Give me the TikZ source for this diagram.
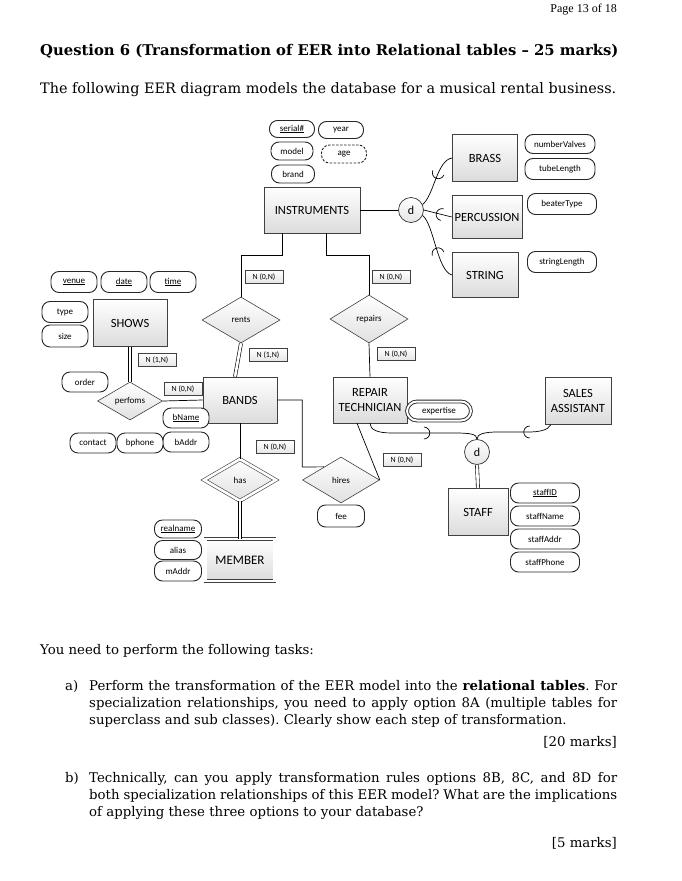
\documentclass[tikz,border=0pt]{standalone}
\usepackage{fontspec}
\setmainfont{DejaVu Serif}
\newfontfamily\diafont{Carlito}
\newfontfamily\timesfont{Liberation Serif}
\usetikzlibrary{shapes.geometric,decorations.markings,calc}
\frenchspacing
\begin{document}
\begin{tikzpicture}[x=1pt,y=-1pt,
  every node/.style={inner sep=0pt},
  ent/.style={draw=black!75, line width=0.6pt, top color=white, bottom color=black!14, minimum height=46pt, align=center, font=\diafont\fontsize{12.5}{15.5}\selectfont},
  attr/.style={draw=black!85, line width=0.9pt, rounded corners=8pt, fill=white, minimum height=19pt, minimum width=46pt, font=\diafont\fontsize{9}{10}\selectfont},
  rel/.style={diamond, aspect=1.7, draw=black!75, line width=0.6pt, top color=white, bottom color=black!12, font=\diafont\fontsize{9}{10}\selectfont},
  card/.style={draw=black!75, line width=0.6pt, top color=white, bottom color=black!10, minimum width=38pt, minimum height=13pt, font=\diafont\fontsize{7.9}{8}\selectfont},
  dcirc/.style={circle, draw=black!80, line width=0.7pt, top color=white, bottom color=black!10, minimum size=25pt, font=\diafont\fontsize{12}{13}\selectfont},
  link/.style={line width=0.7pt},
  dbl/.style={double, double distance=2.6pt, line width=0.6pt},
  subset/.style={postaction={decorate}, decoration={markings, mark=at position #1 with {\draw[line width=0.7pt] (4.5pt,6pt) arc[start angle=90, end angle=270, radius=6pt];}}},
  txt/.style={anchor=base west, font=\fontsize{13.3}{15}\selectfont},
]
\useasboundingbox (0,0) rectangle (681,881);

% ---------- page text ----------
\node[anchor=base east, font=\timesfont\fontsize{12}{14}\selectfont] (pg) at (617,12) {Page 13 of 18};
\node[anchor=base west, font=\bfseries\fontsize{14.8}{17}\selectfont] (q) at (40,55) {Question 6 (Transformation of EER into Relational tables – 25 marks)};
\node[anchor=base west, font=\fontsize{14.4}{17}\selectfont] (intro) at (40,93) {The following EER diagram models the database for a musical rental business.};

% ---------- INSTRUMENTS ----------
\node[ent, minimum width=96pt] (instr) at (312,210) {INSTRUMENTS};
\node[attr, minimum width=45pt, minimum height=17pt] (serial) at (292,129) {\underline{serial\#}};
\node[attr, minimum width=45pt, minimum height=17pt] (year) at (341,130) {year};
\node[attr, minimum width=42pt, minimum height=18pt] (model) at (292,151) {model};
\node[attr, dash pattern=on 2.5pt off 1.5pt, minimum width=45pt, minimum height=18pt] (age) at (344,154) {age};
\node[attr, minimum width=43pt, minimum height=18pt] (brand) at (293,174) {brand};

\node[dcirc] (d1) at (411,210) {d};
\node[ent, minimum width=65pt, minimum height=47pt] (brass) at (485,158) {BRASS};
\node[ent, minimum width=70pt, minimum height=43pt] (perc) at (487,217) {PERCUSSION};
\node[ent, minimum width=66pt, minimum height=45pt] (string) at (485,275) {STRING};
\node[attr, minimum width=70pt, minimum height=19pt] (numv) at (560,144) {numberValves};
\node[attr, minimum width=70pt, minimum height=21pt] (tubel) at (560,169) {tubeLength};
\node[attr, minimum width=69pt, minimum height=21pt] (beat) at (562,204) {beaterType};
\node[attr, minimum width=69pt, minimum height=21pt] (strl) at (562,262) {stringLength};

% ---------- relationships to INSTRUMENTS ----------
\node[rel, minimum width=78pt, minimum height=46pt] (rents) at (241,320) {rents};
\node[rel, minimum width=78pt, minimum height=48pt] (repairs) at (369,319) {repairs};
\node[card] (c1) at (264,277) {N (0,N)};
\node[card] (c2) at (391,277) {N (0,N)};
\node[card] (c3) at (268,355) {N (1,N)};
\node[card] (c4) at (396,354) {N (0,N)};

% ---------- SHOWS ----------
\node[ent, minimum width=74pt, minimum height=47pt] (shows) at (130,323) {SHOWS};
\node[attr, minimum height=21pt] (venue) at (74,282) {\underline{venue}};
\node[attr, minimum height=21pt] (date) at (124,282) {\underline{date}};
\node[attr, minimum height=21pt] (time) at (173,282) {\underline{time}};
\node[attr, minimum height=21pt] (type) at (65,312) {type};
\node[attr, minimum height=22pt] (size) at (65,336) {size};

\node[rel, minimum width=65pt, minimum height=38pt] (performs) at (130,401) {perfoms};
\node[card] (c5) at (157,360) {N (1,N)};
\node[attr, minimum height=20pt] (order) at (85,382) {order};
\node[card] (c6) at (183,389) {N (0,N)};

% ---------- BANDS ----------
\node[ent, minimum width=74pt] (bands) at (240,400) {BANDS};
\node[attr, minimum height=20pt] (bname) at (186,418) {\underline{bName}};
\node[attr, minimum height=20pt] (baddr) at (186,442) {bAddr};
\node[attr, minimum height=20pt] (bphone) at (140,443) {bphone};
\node[attr, minimum height=20pt] (contact) at (93,443) {contact};

\node[rel, double, double distance=2.6pt, minimum width=72pt, minimum height=42pt] (has) at (240,480) {has};
\node[card] (c7) at (275,447) {N (0,N)};
\node[ent, double, double distance=2.6pt, minimum width=69pt, minimum height=42pt, font=\diafont\fontsize{13}{15}\selectfont] (member) at (240,560) {MEMBER};
\node[attr, minimum width=47pt, minimum height=18pt] (realname) at (178,529) {\underline{realname}};
\node[attr, minimum width=47pt, minimum height=19pt] (alias) at (178,550) {alias};
\node[attr, minimum width=47pt, minimum height=20pt] (maddr) at (178,571) {mAddr};

% ---------- hires / REPAIR TECHNICIAN ----------
\node[rel, minimum width=77pt, minimum height=46pt] (hires) at (341,480) {hires};
\node[attr, minimum width=47pt, minimum height=22pt] (fee) at (341,516) {fee};
\node[ent, minimum width=74pt] (repair) at (370,400) {REPAIR\\TECHNICIAN};
\node[card] (c8) at (402,460) {N (0,N)};
\node[attr, double, double distance=2pt, rounded corners=10pt, minimum width=64pt, minimum height=19pt] (expertise) at (439,411) {expertise};
\node[ent, minimum width=66pt, minimum height=47pt] (sales) at (578,401) {SALES\\ASSISTANT};
\node[dcirc] (d2) at (477,452) {d};
\node[ent, minimum width=60pt, minimum height=47pt] (staff) at (478,512) {STAFF};
\node[attr, minimum width=69pt, minimum height=20pt] (staffid) at (545,493) {\underline{staffID}};
\node[attr, minimum width=69pt, minimum height=20pt] (staffname) at (545,516) {staffName};
\node[attr, minimum width=69pt, minimum height=20pt] (staffaddr) at (545,539) {staffAddr};
\node[attr, minimum width=69pt, minimum height=20pt] (staffphone) at (545,562) {staffPhone};

% ---------- connectors ----------
\draw[link] (instr.east) -- (d1.west);
\draw[link, subset=0.55] (d1.25) .. controls (434,195) and (437,160) .. (brass.west);
\draw[link, subset=0.5] (d1.east) -- (perc.west);
\draw[link, subset=0.55] (d1.-25) .. controls (434,225) and (437,270) .. (string.west);

\draw[link] ([xshift=-30pt]instr.south) -- ++(0,22) -| (rents.north);
\draw[link] ([xshift=14pt]instr.south) -- ++(0,22) -| (repairs.north);
\draw[dbl] (rents.south) -- ([xshift=-5pt]bands.north);
\draw[link] (repairs.south) -- (repair.north);
\draw[dbl] (shows.south) -- (performs.north);
\draw[link] (performs.east) -- (bands.west);
\draw[link] (bands.south) -- (has.north);
\draw[dbl] (has.south) -- (member.north);
\draw[link] (bands.east) -| ($(hires.west)+(0,-13)$) -- ($(hires.west)!0.565!(hires.north)$);
\draw[link] ([xshift=-13pt]repair.south) -- (hires.east);
\draw[dbl] (d2.south) -- (staff.north);

\coordinate (l1) at (455,433);
\coordinate (l2) at (392,433);
\coordinate (r1) at (498,432);
\coordinate (r2) at (528,432);
\draw[link, subset=0.45] (d2.north) .. controls (477,434) and (470,433) .. (l1) -- (l2) .. controls (378,433) and (370,430) .. (repair.south);
\draw[link, subset=0.65] (d2.north) .. controls (477,434) and (484,432) .. (r1) -- (r2) .. controls (540,432) and (548,430) .. ([xshift=6pt]sales.south west);

% ---------- tasks ----------
\node[txt] (tasks) at (40,654) {You need to perform the following tasks:};
\node[txt] (lbla) at (65,690) {a)};
\node[txt] (a1) at (89,690) {\makebox[528pt][s]{Perform the transformation of the EER model into the \textbf{relational tables}. For}};
\node[txt] (a2) at (89,707) {\makebox[528pt][s]{specialization relationships, you need to apply option 8A (multiple tables for}};
\node[txt] (a3) at (89,724) {superclass and sub classes). Clearly show each step of transformation.};
\node[txt, anchor=base east] (m20) at (617,746) {[20 marks]};
\node[txt] (lblb) at (65,782) {b)};
\node[txt] (b1) at (89,782) {\makebox[528pt][s]{Technically, can you apply transformation rules options 8B, 8C, and 8D for}};
\node[txt] (b2) at (89,799) {\makebox[528pt][s]{both specialization relationships of this EER model? What are the implications}};
\node[txt] (b3) at (89,816) {of applying these three options to your database?};
\node[txt, anchor=base east] (m5) at (617,847) {[5 marks]};
\end{tikzpicture}
\end{document}
